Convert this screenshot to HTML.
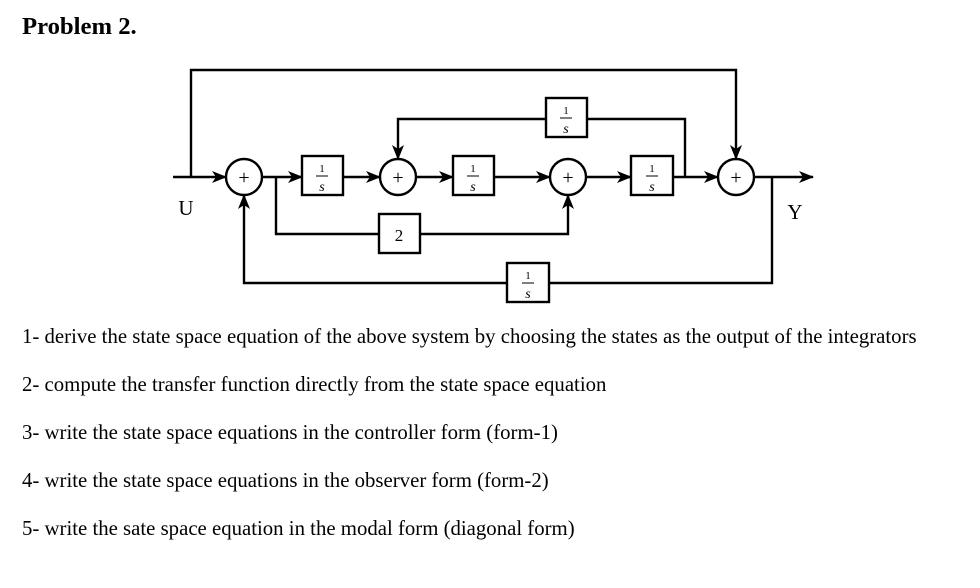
<!DOCTYPE html>
<html><head><meta charset="utf-8"><style>
body{margin:0;width:980px;height:588px;background:#fff;overflow:hidden;position:relative;font-family:"Liberation Serif",serif;color:#000}
.t{position:absolute;left:22px;font-size:20.8px;white-space:nowrap}
</style></head><body>
<div style="position:absolute;left:22px;top:13px;font-weight:bold;font-size:24.7px">Problem 2.</div>
<svg width="980" height="588" style="position:absolute;left:0;top:0" font-family="Liberation Serif, serif">
<defs><marker id="a" markerWidth="15" markerHeight="12" refX="14" refY="6" orient="auto" markerUnits="userSpaceOnUse"><path d="M0,0 L15,6 L0,12 L4,6 z" fill="#000"/></marker></defs>
<g stroke="#000" stroke-width="2.4" fill="none">
<line x1="173" y1="177" x2="226" y2="177" marker-end="url(#a)"/>
<polyline points="191,177 191,70 736,70 736,159" marker-end="url(#a)"/>
<line x1="262" y1="177" x2="302" y2="177" marker-end="url(#a)"/>
<line x1="343" y1="177" x2="380" y2="177" marker-end="url(#a)"/>
<line x1="416" y1="177" x2="453" y2="177" marker-end="url(#a)"/>
<line x1="494" y1="177" x2="550" y2="177" marker-end="url(#a)"/>
<line x1="586" y1="177" x2="631" y2="177" marker-end="url(#a)"/>
<line x1="673" y1="177" x2="718" y2="177" marker-end="url(#a)"/>
<line x1="754" y1="177" x2="813" y2="177" marker-end="url(#a)"/>
<polyline points="685,177 685,119 587,119"/>
<polyline points="546,119 398,119 398,159" marker-end="url(#a)"/>
<polyline points="276,177 276,234 379,234"/>
<polyline points="420,234 568,234 568,195" marker-end="url(#a)"/>
<polyline points="772,177 772,283 549,283"/>
<polyline points="507,283 244,283 244,195" marker-end="url(#a)"/>
<circle cx="244" cy="177" r="18"/><circle cx="398" cy="177" r="18"/><circle cx="568" cy="177" r="18"/><circle cx="736" cy="177" r="18"/>
<rect x="302" y="156" width="41" height="39"/><rect x="453" y="156" width="41" height="39"/><rect x="631" y="156" width="42" height="39"/>
<rect x="546" y="98" width="41" height="39"/><rect x="379" y="214" width="41" height="39"/><rect x="507" y="263" width="42" height="39"/>
<line x1="316" y1="176" x2="328" y2="176" stroke-width="1"/><line x1="467" y1="176" x2="479" y2="176" stroke-width="1"/><line x1="646" y1="176" x2="658" y2="176" stroke-width="1"/>
<line x1="560" y1="118" x2="572" y2="118" stroke-width="1"/><line x1="522" y1="283" x2="534" y2="283" stroke-width="1"/>
</g>
<g font-size="20" text-anchor="middle">
<text x="244" y="184">+</text><text x="398" y="184">+</text><text x="568" y="184">+</text><text x="736" y="184">+</text>
</g>
<g text-anchor="middle">
<g font-size="11"><text x="322" y="172">1</text><text x="473" y="172">1</text><text x="652" y="172">1</text><text x="566" y="114">1</text><text x="528" y="279">1</text></g>
<g font-size="14" font-style="italic"><text x="322" y="191">s</text><text x="473" y="191">s</text><text x="652" y="191">s</text><text x="566" y="133">s</text><text x="528" y="298">s</text></g>
<text x="399" y="241" font-size="17">2</text>
<text x="186" y="215" font-size="21">U</text><text x="795" y="219" font-size="21">Y</text>
</g>
</svg>
<div class="t" style="top:325px">1- derive the state space equation of the above system by choosing the states as the output of the integrators</div>
<div class="t" style="top:373px">2- compute the transfer function directly from the state space equation</div>
<div class="t" style="top:421px">3- write the state space equations in the controller form (form-1)</div>
<div class="t" style="top:469px">4- write the state space equations in the observer form (form-2)</div>
<div class="t" style="top:517px">5- write the sate space equation in the modal form (diagonal form)</div>
</body></html>
